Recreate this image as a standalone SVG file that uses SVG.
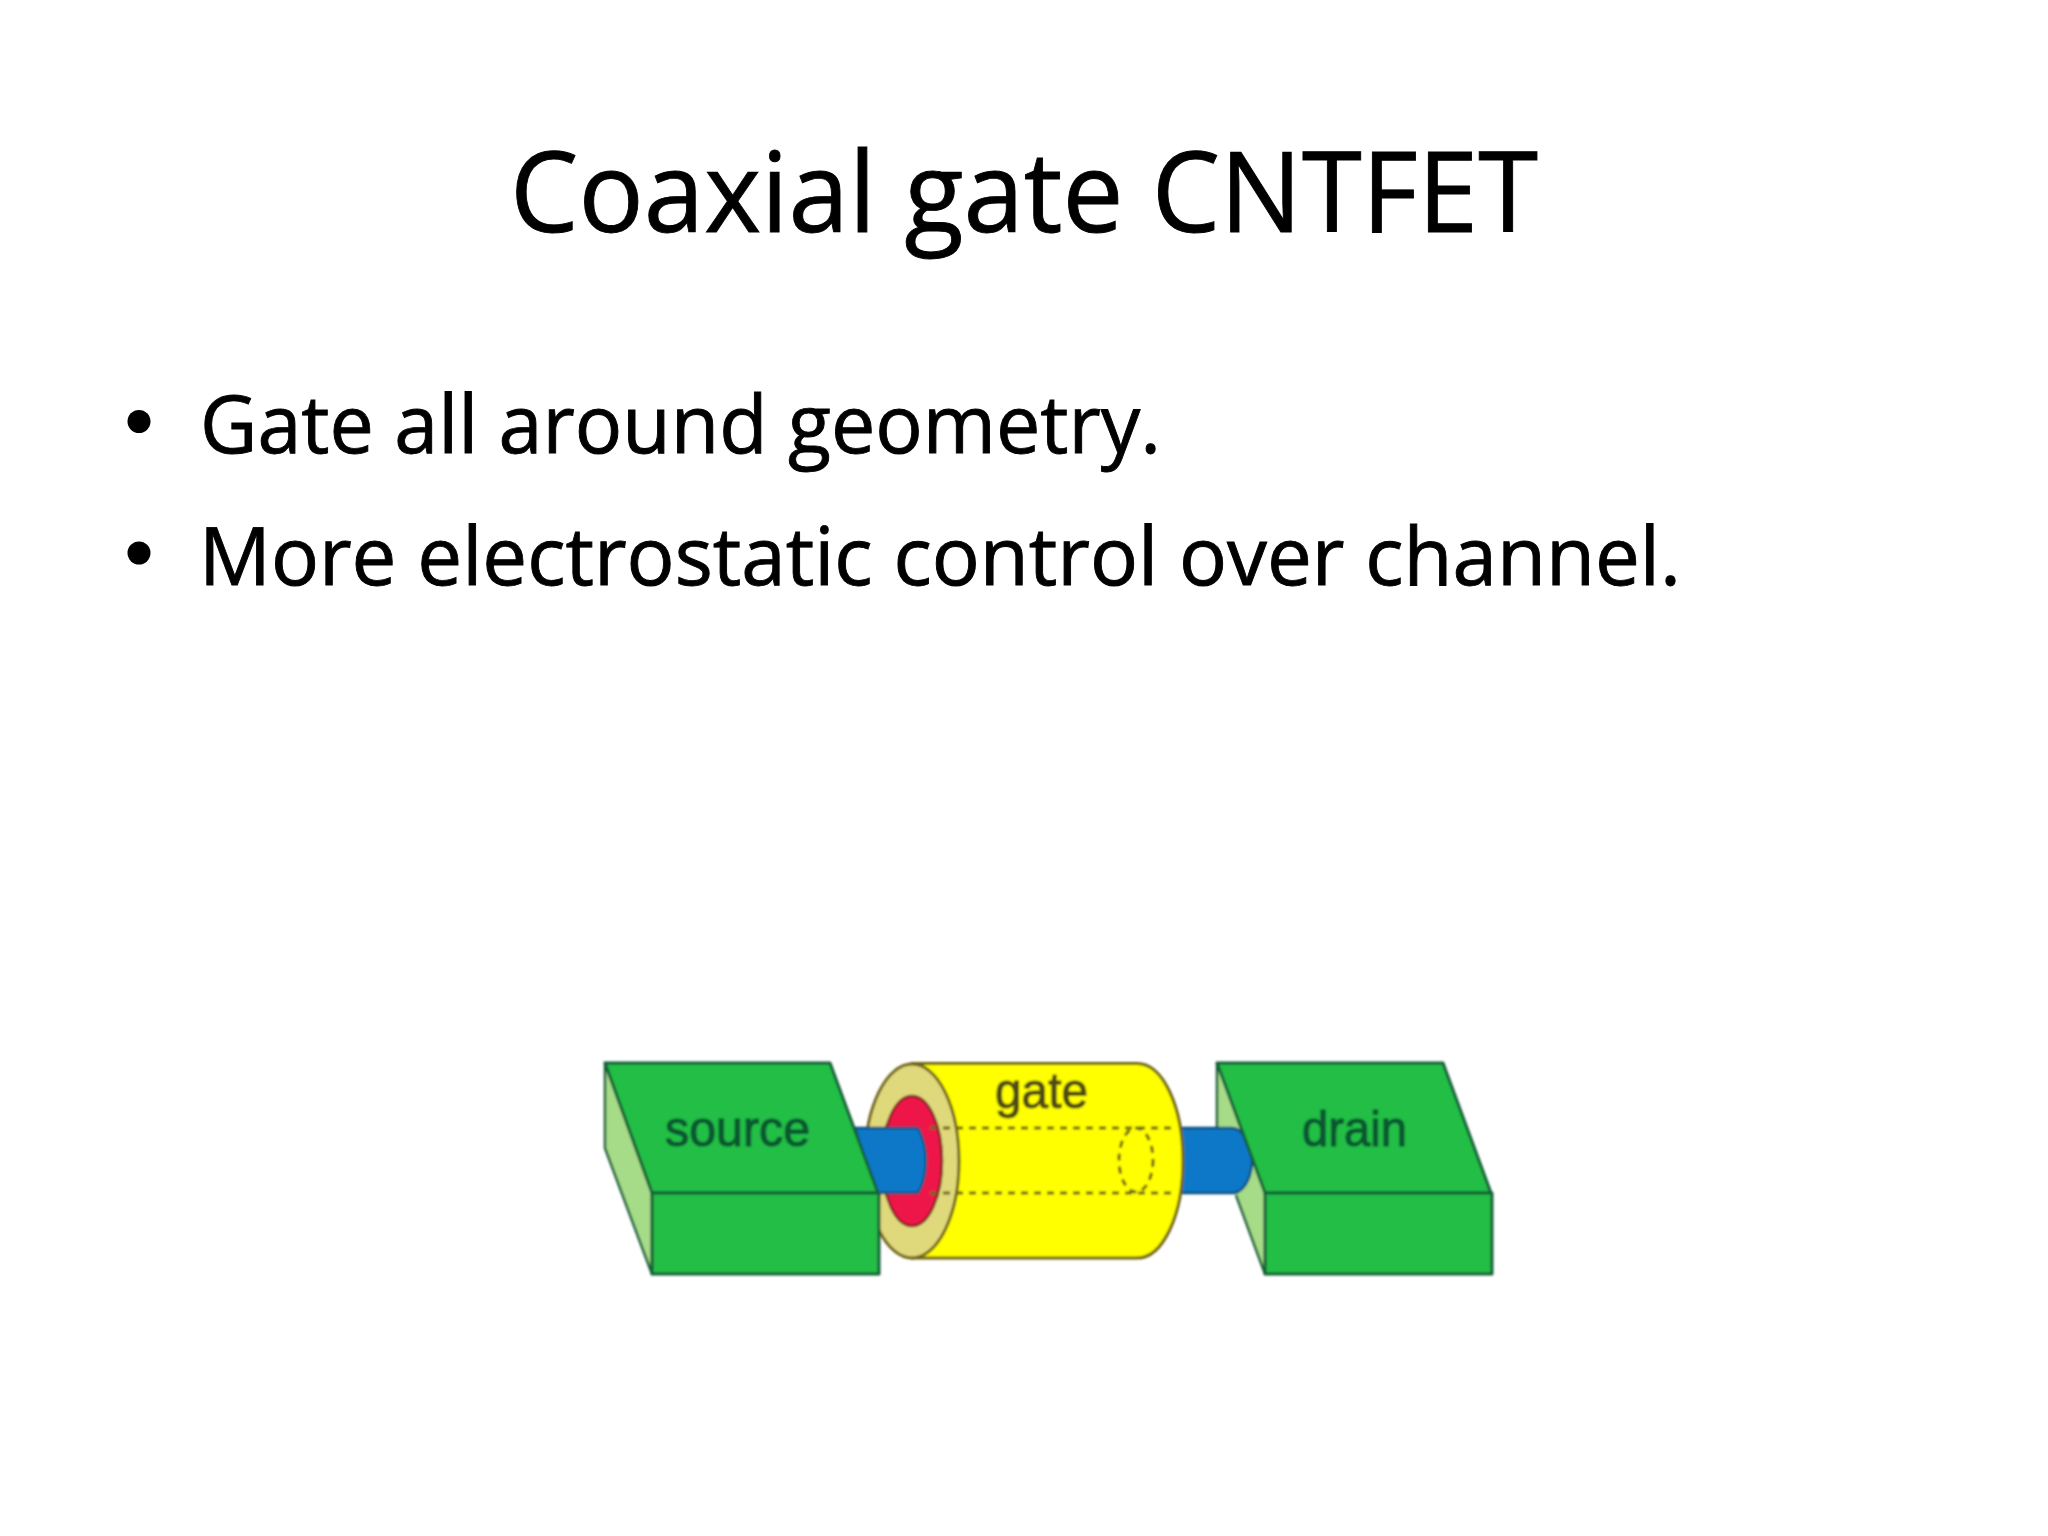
<svg xmlns="http://www.w3.org/2000/svg" width="2048" height="1536" viewBox="0 0 2048 1536">
<defs>
<style>
.t{font-family:"Open Sans","Noto Sans","Liberation Sans",sans-serif;fill:#000;stroke:#000;stroke-width:0.9;font-variant-ligatures:none}
.lab{font-family:"Liberation Sans",Arial,sans-serif;font-size:50px;fill:#0a5630;stroke:#0a5630;stroke-width:1.2}
.gl{fill:#4f4c12;stroke:#4f4c12}
.g{fill:#20be45;stroke:#145f38;stroke-width:3;stroke-linejoin:round}
.lg{fill:#a6dc88;stroke:#145f38;stroke-width:2.5;stroke-linejoin:round}
.ln{fill:none;stroke:#145f38;stroke-width:2.5}
.b{fill:#0d78c8;stroke:#0b4f80;stroke-width:2.5}
.y{stroke:#6f6415;stroke-width:3}
.d{fill:none;stroke:#6f6415;stroke-width:3;stroke-dasharray:7 6}
</style>
<filter id="soft" x="-5%" y="-5%" width="110%" height="110%"><feGaussianBlur stdDeviation="0.8"/></filter>
</defs>
<rect width="2048" height="1536" fill="#fff"/>
<g id="title"><text class="t" x="510" y="232" font-size="112" textLength="1028" lengthAdjust="spacingAndGlyphs">Coaxial gate CNTFET</text></g>
<g id="bullets">
<circle cx="139" cy="421.500" r="11.500"/>
<text class="t" x="200" y="453" font-size="80" textLength="961" lengthAdjust="spacingAndGlyphs">Gate all around geometry.</text>
<circle cx="139" cy="553" r="11.500"/>
<text class="t" x="199" y="585" font-size="80" textLength="1482" lengthAdjust="spacingAndGlyphs">More electrostatic control over channel.</text>
</g>
<g filter="url(#soft)">
<g id="drain-side"><path fill="#a6dc88" d="M1217 1063V1128L1236 1195L1265 1274V1193Z"/><path class="ln" d="M1217 1063V1128M1236 1195L1265 1274"/></g>
<g id="nanotube-drain-end"><path class="b" d="M1170 1128H1232C1244 1128 1250 1146 1252 1160C1252 1175 1246 1190 1235 1193H1170Z"/></g>
<g id="gate">
<path class="y" fill="#ffff00" d="M912 1063.500H1137C1163 1063.500 1183 1107 1183 1161C1183 1215 1163 1258 1137 1258H912Z"/>
<ellipse class="y" cx="912" cy="1161" rx="47" ry="97" fill="#e0d97c"/>
<ellipse cx="912" cy="1161" rx="30" ry="65" fill="#ee1848" stroke="#7a2020" stroke-width="2.500"/>
<path class="d" d="M930 1128H1175M930 1193H1175"/>
<ellipse class="d" cx="1136" cy="1160" rx="17" ry="32"/>
<text class="lab gl" x="995" y="1108" textLength="93" lengthAdjust="spacingAndGlyphs">gate</text>
</g>
<g id="nanotube-source-end"><path class="b" d="M855 1128H918Q926 1142 926 1161Q926 1180 918 1193H875Z"/></g>
<g id="source">
<path class="lg" d="M605 1063V1148L652 1274V1193Z"/>
<path class="g" d="M605 1063H830L878 1193H652Z"/>
<rect class="g" x="652" y="1193" width="227" height="81"/>
<text class="lab" x="665" y="1146" textLength="145" lengthAdjust="spacingAndGlyphs">source</text>
</g>
<g id="drain">
<path class="g" d="M1217 1063H1443L1491 1193H1265Z"/>
<rect class="g" x="1265" y="1193" width="227" height="81"/>
<text class="lab" x="1302" y="1146" textLength="105" lengthAdjust="spacingAndGlyphs">drain</text>
</g>
</g>
</svg>
